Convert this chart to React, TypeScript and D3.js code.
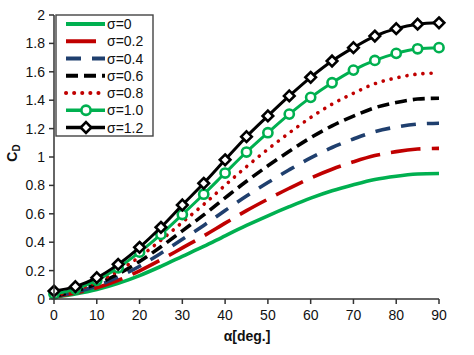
import React from "react";
import * as d3 from "d3";

const alpha = [0, 5, 10, 15, 20, 25, 30, 35, 40, 45, 50, 55, 60, 65, 70, 75, 80, 85, 90];
const s00 = [0.012, 0.035, 0.066, 0.110, 0.165, 0.230, 0.300, 0.370, 0.445, 0.518, 0.586, 0.650, 0.710, 0.762, 0.805, 0.842, 0.865, 0.880, 0.884];
const s02 = [0.014, 0.042, 0.079, 0.132, 0.198, 0.276, 0.360, 0.444, 0.534, 0.622, 0.703, 0.780, 0.852, 0.914, 0.966, 1.010, 1.038, 1.056, 1.061];
const s04 = [0.017, 0.049, 0.092, 0.154, 0.231, 0.322, 0.420, 0.518, 0.623, 0.725, 0.820, 0.910, 0.994, 1.067, 1.127, 1.179, 1.211, 1.232, 1.238];
const s06 = [0.019, 0.056, 0.106, 0.176, 0.264, 0.368, 0.480, 0.592, 0.712, 0.829, 0.938, 1.040, 1.136, 1.219, 1.288, 1.347, 1.384, 1.408, 1.414];
const s08 = [0.022, 0.063, 0.119, 0.198, 0.297, 0.414, 0.540, 0.666, 0.801, 0.932, 1.055, 1.170, 1.278, 1.372, 1.449, 1.516, 1.557, 1.584, 1.591];
const s10 = [0.035, 0.070, 0.132, 0.220, 0.330, 0.455, 0.595, 0.738, 0.887, 1.035, 1.171, 1.302, 1.420, 1.523, 1.612, 1.680, 1.730, 1.762, 1.770];
const s12 = [0.056, 0.087, 0.150, 0.244, 0.364, 0.505, 0.662, 0.815, 0.980, 1.143, 1.289, 1.430, 1.561, 1.676, 1.770, 1.852, 1.904, 1.935, 1.945];

const labels = ["σ=0", "σ=0.2", "σ=0.4", "σ=0.6", "σ=0.8", "σ=1.0", "σ=1.2"];
const xTicks = [0, 10, 20, 30, 40, 50, 60, 70, 80, 90];
const yTicks = [0, 0.2, 0.4, 0.6, 0.8, 1, 1.2, 1.4, 1.6, 1.8, 2];

const series = [
  { label: labels[0], values: s00, color: "#00B050", width: 3.6, dash: "", cap: "butt", marker: "" },
  { label: labels[1], values: s02, color: "#C00000", width: 3.6, dash: "30 11", cap: "butt", marker: "" },
  { label: labels[2], values: s04, color: "#1F3F6E", width: 3.6, dash: "15 11", cap: "butt", marker: "" },
  { label: labels[3], values: s06, color: "#000000", width: 3.6, dash: "12 6", cap: "butt", marker: "" },
  { label: labels[4], values: s08, color: "#C00000", width: 3.6, dash: "0.1 8", cap: "round", marker: "" },
  { label: labels[5], values: s10, color: "#00B050", width: 3, dash: "", cap: "butt", marker: "circle" },
  { label: labels[6], values: s12, color: "#000000", width: 3, dash: "", cap: "butt", marker: "diamond" },
];

const FONT = "'Liberation Sans', Arial, sans-serif";

function Marker({ type, x, y, color }: { type: string; x: number; y: number; color: string }) {
  if (type === "circle") {
    return <circle cx={x} cy={y} r={4.6} fill="#fff" stroke={color} strokeWidth={2.6} />;
  }
  if (type === "diamond") {
    const s = 5.3;
    return (
      <path
        d={`M${x},${y - s}L${x + s},${y}L${x},${y + s}L${x - s},${y}Z`}
        fill="#fff"
        stroke={color}
        strokeWidth={2.6}
      />
    );
  }
  return null;
}

export default function App() {
  const W = 474;
  const H = 355;
  const x = d3.scaleLinear().domain([0, 90]).range([54, 439]);
  const y = d3.scaleLinear().domain([0, 2]).range([299, 15]);
  const line = d3
    .line<number>()
    .x((_, i) => x(alpha[i]))
    .y((d) => y(d))
    .curve(d3.curveCatmullRom.alpha(0.5));

  const legX0 = 66;
  const legX1 = 105;
  const legY0 = 24;
  const legDY = 17.25;

  return (
    <svg
      width={W}
      height={H}
      style={{ position: "absolute", left: 0, top: 0, background: "#fff" }}
      fontFamily={FONT}
    >
      <rect x={0} y={0} width={W} height={H} fill="#fff" />
      {series.map((s) => (
        <g key={s.label}>
          <path
            d={line(s.values) || ""}
            fill="none"
            stroke={s.color}
            strokeWidth={s.width}
            strokeDasharray={s.dash || undefined}
            strokeLinecap={s.cap as any}
          />
          {s.marker &&
            s.values.map((v, i) => (
              <Marker key={i} type={s.marker} x={x(alpha[i])} y={y(v)} color={s.color} />
            ))}
        </g>
      ))}

      {/* axes */}
      <line x1={54} x2={54} y1={15} y2={299} stroke="#333" strokeWidth={1.5} />
      <line x1={54} x2={439} y1={299} y2={299} stroke="#333" strokeWidth={1.5} />
      {yTicks.map((t) => (
        <g key={t}>
          <line x1={49} x2={54} y1={y(t)} y2={y(t)} stroke="#333" strokeWidth={1.5} />
          <text x={45} y={y(t)} dy="0.36em" textAnchor="end" fontSize={14} fill="#111">
            {String(t)}
          </text>
        </g>
      ))}
      {xTicks.map((t) => (
        <g key={t}>
          <line x1={x(t)} x2={x(t)} y1={299} y2={304} stroke="#333" strokeWidth={1.5} />
          <text x={x(t)} y={320} textAnchor="middle" fontSize={14} fill="#111">
            {String(t)}
          </text>
        </g>
      ))}
      <text x={247} y={341} textAnchor="middle" fontSize={14} fontWeight="bold" fill="#111">
        α[deg.]
      </text>
      <text
        transform="translate(17,153) rotate(-90)"
        textAnchor="middle"
        fontSize={14}
        fontWeight="bold"
        fill="#111"
      >
        C<tspan fontSize={10} dy={3}>D</tspan>
      </text>

      {/* legend */}
      <rect x={56} y={15} width={97} height={121} fill="#fff" stroke="#444" strokeWidth={1.4} />
      {series.map((s, i) => {
        const ly = legY0 + i * legDY;
        return (
          <g key={s.label}>
            <line
              x1={legX0}
              x2={legX1}
              y1={ly}
              y2={ly}
              stroke={s.color}
              strokeWidth={s.width + 0.4}
              strokeDasharray={s.dash || undefined}
              strokeLinecap={s.cap as any}
            />
            {s.marker && <Marker type={s.marker} x={86} y={ly} color={s.color} />}
            <text x={107} y={ly} dy="0.36em" fontSize={14} fill="#111">
              {s.label}
            </text>
          </g>
        );
      })}
    </svg>
  );
}
